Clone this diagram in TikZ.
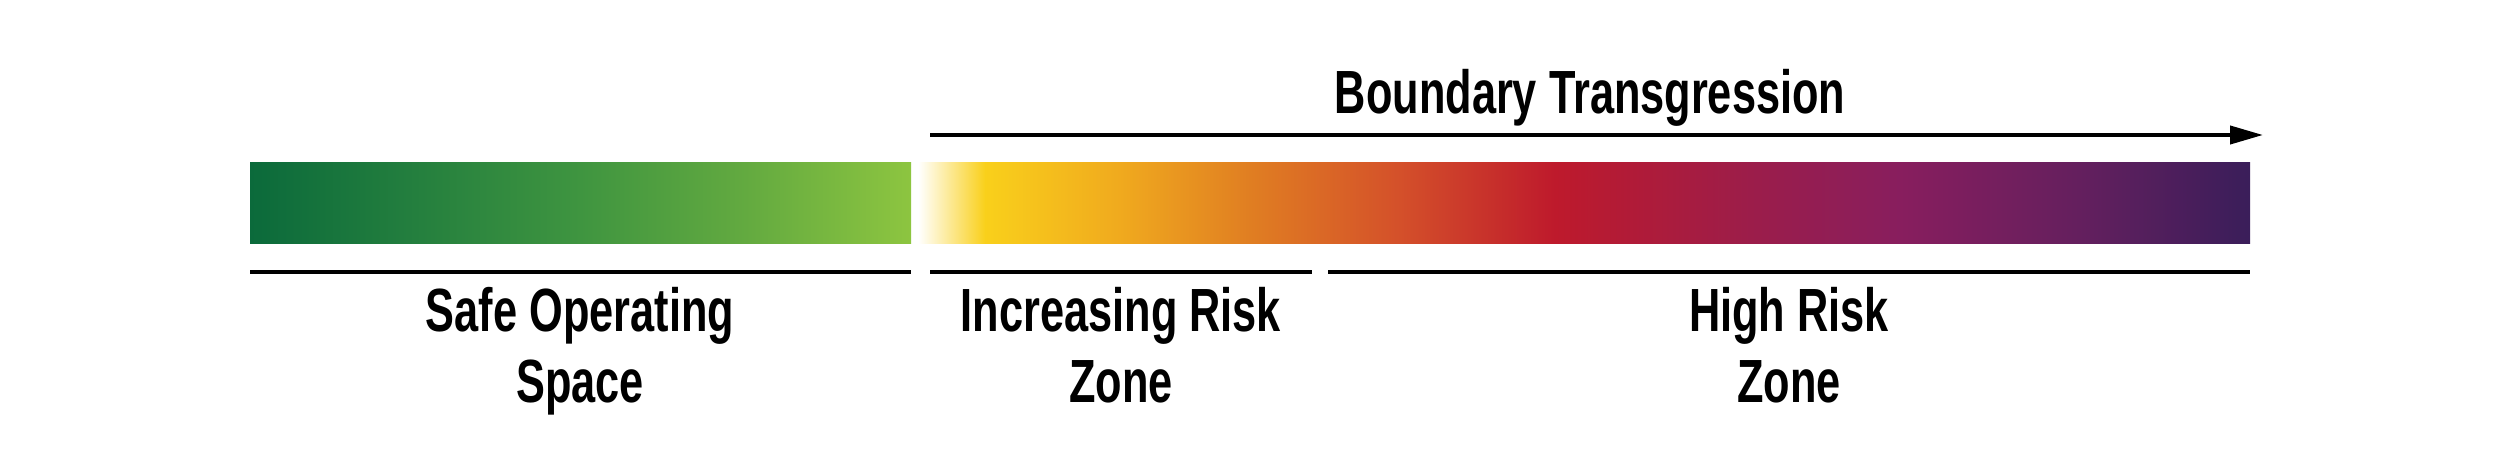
\documentclass[tikz,border=0pt]{standalone}
\usepackage{fontspec}
\newfontfamily\labfont{Liberation Sans}[FakeStretch=0.71]
\usetikzlibrary{arrows.meta}
\definecolor{gA}{HTML}{0B6A3B}
\definecolor{gB}{HTML}{247F3E}
\definecolor{gC}{HTML}{3F9540}
\definecolor{gD}{HTML}{63AA40}
\definecolor{gE}{HTML}{8DC540}
\definecolor{rW}{HTML}{FFFFFF}
\definecolor{rA}{HTML}{F9D01B}
\definecolor{rB}{HTML}{F0AA1E}
\definecolor{rC}{HTML}{E07E22}
\definecolor{rD}{HTML}{D4502A}
\definecolor{rE}{HTML}{BE1A2C}
\definecolor{rF}{HTML}{9C1D4A}
\definecolor{rG}{HTML}{881E5E}
\definecolor{rH}{HTML}{641F5E}
\definecolor{rI}{HTML}{3A1E5A}
\pgfdeclarehorizontalshading{safeshade}{100bp}{color(0bp)=(gA); color(25bp)=(gA); color(37.5bp)=(gB); color(50bp)=(gC); color(62.5bp)=(gD); color(75bp)=(gE); color(100bp)=(gE)}
\pgfdeclarehorizontalshading{riskshade}{100bp}{color(0bp)=(rW); color(25bp)=(rW); color(25.2bp)=(rW); color(27.7bp)=(rA); color(32.7bp)=(rB); color(37.6bp)=(rC); color(43.2bp)=(rD); color(49bp)=(rE); color(56.3bp)=(rF); color(61.9bp)=(rG); color(68.6bp)=(rH); color(75bp)=(rI); color(100bp)=(rI)}
\tikzset{
  lab/.style={font=\labfont\bfseries\fontsize{61}{70}\selectfont, text=black, inner sep=0pt, anchor=base},
  rule/.style={line width=4pt, black},
  arrowline/.style={line width=4pt, black, -{Triangle[length=33pt,width=18pt]}}
}
\begin{document}
\begin{tikzpicture}[x=1pt,y=1pt]
\useasboundingbox (0,0) rectangle (2500,450);
\fill[white] (0,0) rectangle (2500,450);
% bars
\path[shading=safeshade] (250,206) rectangle (911,287);
\path[shading=riskshade] (913,206) rectangle (2250,287);
% arrow
\coordinate (arrS) at (930,315);
\coordinate (arrE) at (2263,315);
\draw[arrowline] (arrS) -- (arrE);
\node[lab] (bt) at (1590,336) {Boundary Transgression};
% rules
\coordinate (l1a) at (250,178); \coordinate (l1b) at (911,178);
\coordinate (l2a) at (930,178); \coordinate (l2b) at (1312,178);
\coordinate (l3a) at (1328,178); \coordinate (l3b) at (2250,178);
\draw[rule] (l1a) -- (l1b);
\draw[rule] (l2a) -- (l2b);
\draw[rule] (l3a) -- (l3b);
% labels
\node[lab] (safe1) at (580,118) {Safe Operating};
\node[lab] (safe2) at (580,48) {Space};
\node[lab] (inc1) at (1121,118) {Increasing Risk};
\node[lab] (inc2) at (1121,48) {Zone};
\node[lab] (high1) at (1789,118) {High Risk};
\node[lab] (high2) at (1789,48) {Zone};
\end{tikzpicture}
\end{document}
